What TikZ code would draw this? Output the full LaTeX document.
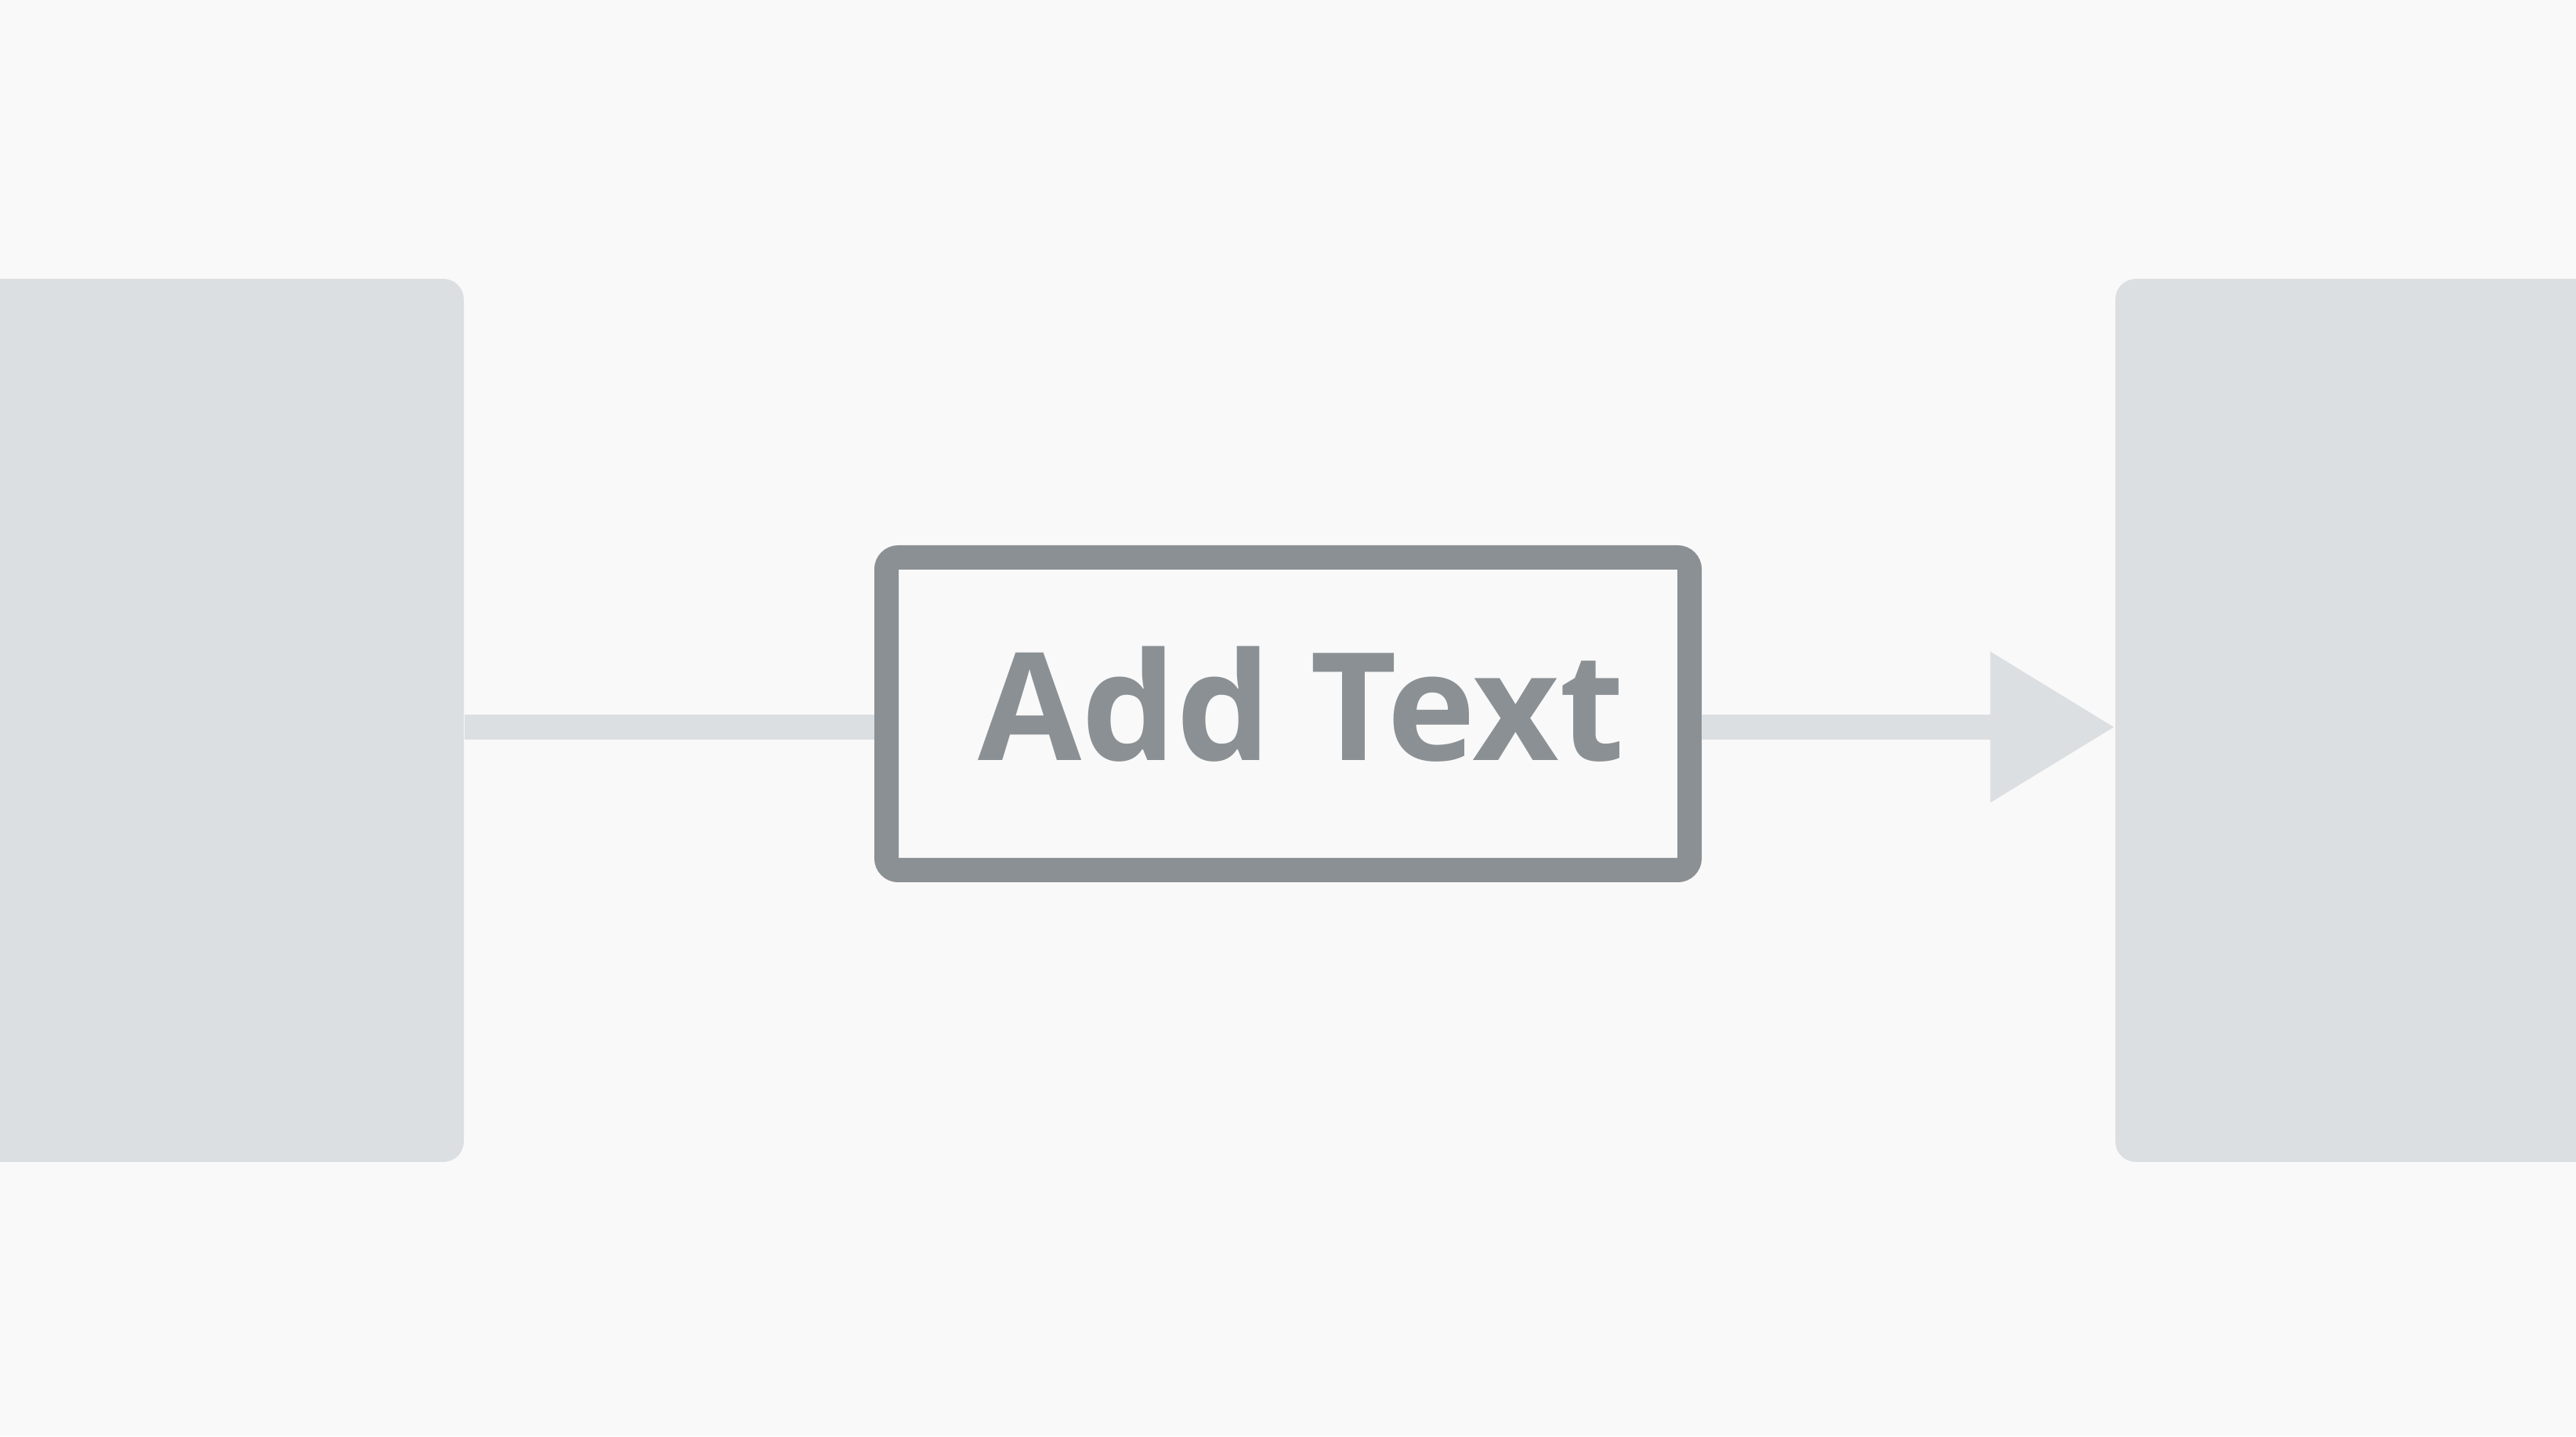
\documentclass[tikz,border=0pt]{standalone}
\usepackage{fontspec}
\usepackage{tikz}
\usetikzlibrary{arrows.meta, positioning}
\newfontfamily\lblfont{Open Sans}
\definecolor{bgcol}{HTML}{F9F9F9}
\definecolor{blockcol}{HTML}{DCDFE1}
\definecolor{framecol}{HTML}{8B9094}

\begin{document}
\begin{tikzpicture}[
	block/.style={fill=blockcol, rounded corners=0.26cm, inner sep=0pt, minimum height=11.27cm},
	frame/.style={draw=framecol, fill=bgcol, line width=0.31cm, rounded corners=0.15cm, inner sep=0pt, minimum width=10.25cm, minimum height=3.99cm},
	link/.style={blockcol, line width=0.32cm},
	lbl/.style={text=framecol, font=\lblfont\bfseries\fontsize{54.5}{60}\selectfont, inner sep=0pt}
]

\fill[bgcol] (0,0) rectangle (32.88,18.33);
\useasboundingbox (0,0) rectangle (32.88,18.33);
\clip (0,0) rectangle (32.88,18.33);

\node[block, minimum width=6.52cm] (srcbox) at (2.66,9.135) {};
\node[block, minimum width=6.48cm] (dstbox) at (30.24,9.135) {};

\node[frame] (txtbox) at (16.44,9.22) {};
\node[lbl, anchor=base] (txt) at (16.61,8.62) {Add Text};

\coordinate (mid) at (0,9.05);
\draw[link] (srcbox.east |- mid) -- (txtbox.west |- mid);
\draw[link, -{Triangle[length=1.59cm, width=1.84cm]}] (txtbox.east |- mid) -- (dstbox.west |- mid);

\end{tikzpicture}
\end{document}
